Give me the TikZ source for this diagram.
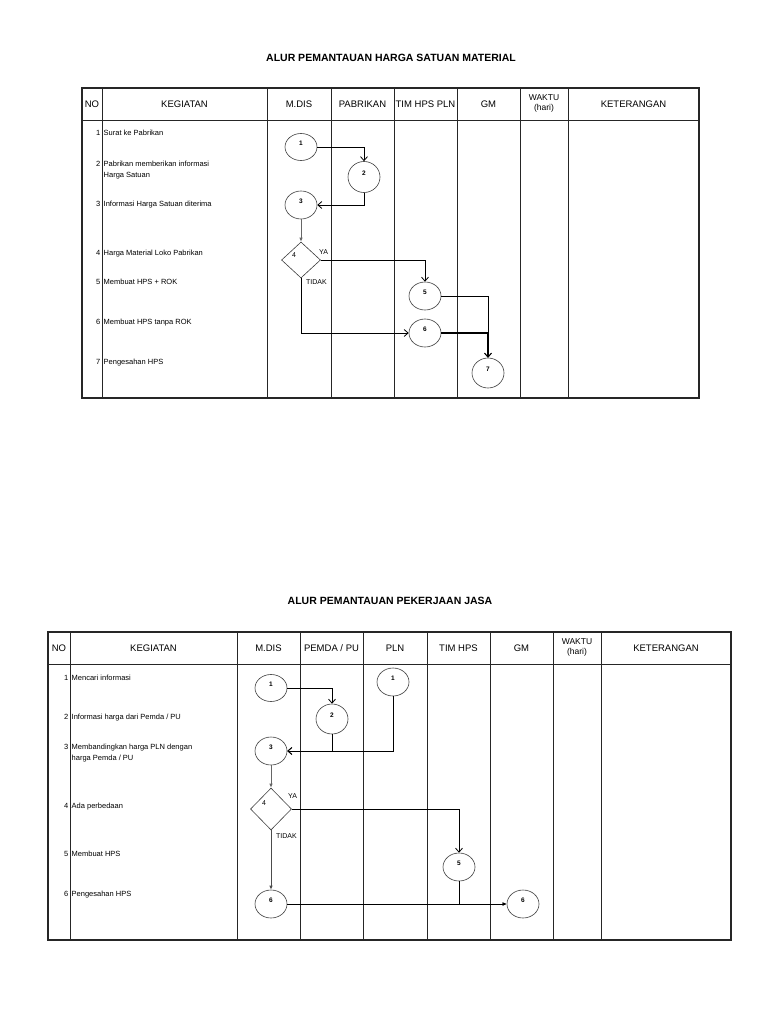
\documentclass[tikz,border=0pt]{standalone}
\usepackage{fontspec}
\setmainfont{Liberation Sans}
\usetikzlibrary{shapes.geometric,arrows.meta}
\begin{document}
\begin{tikzpicture}[x=1pt,y=-1pt,
  outer/.style={line width=1.3pt,draw=black!85},
  grid/.style={line width=0.8pt,draw=black!85},
  ttl/.style={font=\bfseries\fontsize{10.5}{12}\selectfont,inner sep=0},
  hdr/.style={font=\fontsize{9.5}{11}\selectfont,inner sep=0},
  hdrs/.style={font=\fontsize{8.5}{10}\selectfont,inner sep=0,align=center},
  rowtxt/.style={font=\fontsize{7.5}{10.5}\selectfont,inner sep=0,align=left},
  ell/.style={ellipse,draw=black!75,line width=0.6pt,minimum width=32pt,minimum height=28pt,inner sep=0,
    font=\bfseries\fontsize{6.5}{7}\selectfont,text height=4.7pt,text depth=8pt},
  dia/.style={diamond,draw=black!75,line width=0.6pt,inner sep=0},
  lbl/.style={font=\fontsize{7}{8}\selectfont,inner sep=0},
  conn/.style={line width=0.8pt,draw=black},
  oarr/.style={-{Straight Barb[length=4pt,width=7pt,line width=0.8pt]}},
  farr/.style={-{Latex[length=4pt,width=3.5pt]}},
]
\useasboundingbox[fill=white] (0,0) rectangle (768,1024);

% ================= TOP TABLE =================
\node[ttl] (title1) at (391,58) {ALUR PEMANTAUAN HARGA SATUAN MATERIAL};
\draw[grid] (82,120) -- (699,120);
\foreach \x in {102,267,331,394,457,520,568} \draw[grid] (\x,88) -- (\x,398);
\draw[outer] (82,88) rectangle (699,398);

\node[hdr] (h1no) at (92,104) {NO};
\node[hdr] (h1keg) at (184.5,104) {KEGIATAN};
\node[hdr] (h1mdis) at (299,104) {M.DIS};
\node[hdr] (h1pab) at (362.5,104) {PABRIKAN};
\node[hdr] (h1tim) at (425.5,104) {TIM HPS PLN};
\node[hdr] (h1gm) at (488.5,104) {GM};
\node[hdrs] (h1wak) at (544,103) {WAKTU\\(hari)};
\node[hdr] (h1ket) at (633.5,104) {KETERANGAN};

\foreach \n/\y in {1/135.5,2/166.5,3/206.5,4/255.5,5/284.5,6/324.5,7/364.5}
  \node[rowtxt,anchor=base east] (tn\n) at (100.5,\y) {\n};
\node[rowtxt,anchor=base west] (tr1) at (103.5,135.5) {Surat ke Pabrikan};
\node[rowtxt,anchor=north west] (tr2) at (103.5,161) {Pabrikan memberikan informasi\\Harga Satuan};
\node[rowtxt,anchor=base west] (tr3) at (103.5,206.5) {Informasi Harga Satuan diterima};
\node[rowtxt,anchor=base west] (tr4) at (103.5,255.5) {Harga Material Loko Pabrikan};
\node[rowtxt,anchor=base west] (tr5) at (103.5,284.5) {Membuat HPS + ROK};
\node[rowtxt,anchor=base west] (tr6) at (103.5,324.5) {Membuat HPS tanpa ROK};
\node[rowtxt,anchor=base west] (tr7) at (103.5,364.5) {Pengesahan HPS};

\node[ell,minimum height=27pt] (t1) at (301,147) {1};
\node[ell,minimum height=31pt] (t2) at (364,177) {2};
\node[ell] (t3) at (301,205) {3};
\node[dia,minimum width=39pt,minimum height=36pt,label={[lbl,xshift=-7pt,yshift=5pt]center:4}] (t4) at (301,260) {};
\node[ell] (t5) at (425,296) {5};
\node[ell] (t6) at (425,333) {6};
\node[ell,minimum height=30pt] (t7) at (488,373) {7};

\draw[conn,oarr] (t1.east) -| (t2.north);
\draw[conn,oarr] (t2.south) |- (t3.east);
\draw[conn,farr,draw=black!60] (t3.south) -- (t4.north);
\draw[conn,oarr] (t4.east) -| (t5.north);
\draw[conn,oarr] (t4.south) |- (t6.west);
\draw[conn,oarr] (t5.east) -| (t7.north);
\draw[conn,line width=1.3pt,oarr] (t6.east) -| (t7.north);
\node[lbl,anchor=west] (tya) at (319,252) {YA};
\node[lbl,anchor=west] (ttidak) at (306,282) {TIDAK};

% ================= BOTTOM TABLE =================
\node[ttl] (title2) at (390,601) {ALUR PEMANTAUAN PEKERJAAN JASA};
\draw[grid] (48,664) -- (731,664);
\foreach \x in {70,237,300,363,427,490,553,601} \draw[grid] (\x,632) -- (\x,940);
\draw[outer] (48,632) rectangle (731,940);

\node[hdr] (h2no) at (59,648) {NO};
\node[hdr] (h2keg) at (153.5,648) {KEGIATAN};
\node[hdr] (h2mdis) at (268.5,648) {M.DIS};
\node[hdr] (h2pem) at (331.5,648) {PEMDA / PU};
\node[hdr] (h2pln) at (395,648) {PLN};
\node[hdr] (h2tim) at (458.5,648) {TIM HPS};
\node[hdr] (h2gm) at (521.5,648) {GM};
\node[hdrs] (h2wak) at (577,647) {WAKTU\\(hari)};
\node[hdr] (h2ket) at (666,648) {KETERANGAN};

\foreach \n/\y in {1/680.5,2/719.5,3/749.5,4/808.5,5/856.5,6/896.5}
  \node[rowtxt,anchor=base east] (bn\n) at (68.5,\y) {\n};
\node[rowtxt,anchor=base west] (br1) at (71.5,680.5) {Mencari informasi};
\node[rowtxt,anchor=base west] (br2) at (71.5,719.5) {Informasi harga dari Pemda / PU};
\node[rowtxt,anchor=north west] (br3) at (71.5,744) {Membandingkan harga PLN dengan\\harga Pemda / PU};
\node[rowtxt,anchor=base west] (br4) at (71.5,808.5) {Ada perbedaan};
\node[rowtxt,anchor=base west] (br5) at (71.5,856.5) {Membuat HPS};
\node[rowtxt,anchor=base west] (br6) at (71.5,896.5) {Pengesahan HPS};

\node[ell,minimum height=27pt] (b1) at (271,688) {1};
\node[ell,minimum height=30pt] (b2) at (332,719) {2};
\node[ell] (p1) at (393,682) {1};
\node[ell] (b3) at (271,751) {3};
\node[dia,minimum width=41pt,minimum height=42pt,label={[lbl,xshift=-7pt,yshift=6pt]center:4}] (b4) at (271,809) {};
\node[ell] (b5) at (459,867) {5};
\node[ell] (b6) at (271,904) {6};
\node[ell] (g6) at (523,904) {6};

\draw[conn,oarr] (b1.east) -| (b2.north);
\draw[conn,oarr] (b2.south) |- (b3.east);
\draw[conn,oarr] (p1.south) |- (b3.east);
\draw[conn,farr,draw=black!60] (b3.south) -- (b4.north);
\draw[conn,oarr] (b4.east) -| (b5.north);
\draw[conn,farr,draw=black!70] (b4.south) -- (b6.north);
\draw[conn,farr] (b6.east) -- (g6.west);
\draw[conn,farr] (b5.south) |- (g6.west);
\node[lbl,anchor=west] (bya) at (288,796) {YA};
\node[lbl,anchor=west] (btidak) at (276,836) {TIDAK};
\end{tikzpicture}
\end{document}
